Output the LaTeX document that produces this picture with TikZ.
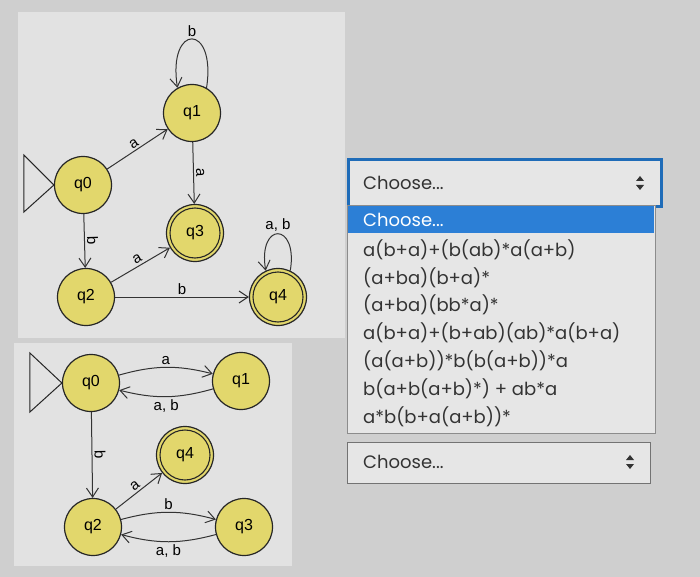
\documentclass[tikz,border=0pt]{standalone}
\usepackage{fontspec}
\setmainfont{Liberation Sans}
\newfontfamily\pop{Poppins}
\usetikzlibrary{arrows.meta}
\definecolor{bg}{HTML}{CFCFCF}
\definecolor{panel}{HTML}{E2E2E2}
\definecolor{stfill}{HTML}{E2D76C}
\definecolor{selblue}{HTML}{2C7FD6}
\definecolor{frameblue}{HTML}{1F6CB8}
\definecolor{boxfill}{HTML}{E6E6E6}
\definecolor{txt}{HTML}{333333}
\begin{document}
\begin{tikzpicture}[x=1pt,y=-1pt,
  state/.style={circle,draw=black!85,line width=1.2pt,fill=stfill,minimum size=57pt,inner sep=0pt,font=\fontsize{16}{16}\selectfont},
  tr/.style={draw=black!80,line width=1pt,-{Straight Barb[length=9pt,width=12pt]}},
  lbl/.style={font=\fontsize{15}{15}\selectfont,inner sep=2pt},
  init/.style={draw=black!85,line width=1pt},
  item/.style={anchor=west,font=\pop\fontsize{18}{20}\selectfont,text=txt,inner sep=0pt},
  arrowicon/.style={fill=black!80,draw=none}]
\fill[bg] (0,0) rectangle (700,577);
\useasboundingbox (0,0) rectangle (700,577);
% panels
\fill[panel] (18,12) rectangle (345,338);
\fill[panel] (14,343) rectangle (292,566);

% ---- top automaton ----
\node[state] (a0) at (83,185) {q0};
\node[state] (a1) at (192,113) {q1};
\node[state] (a3) at (195,233) {q3};
\node[state] (a2) at (86,297) {q2};
\node[state] (a4) at (278,297) {q4};
\draw[line width=1.1pt,draw=black!85] (a3.center) circle (25);
\draw[line width=1.1pt,draw=black!85] (a4.center) circle (25);
\draw[init] (a0.west) -- ++(-30,-30) -- ++(0,57) -- cycle;

\draw[tr] (a0) -- node[lbl,sloped,above] {a} (a1);
\draw[tr] (a1) -- node[lbl,sloped,above] {a} (a3);
\draw[tr] (a0) -- node[lbl,sloped,above] {b} (a2);
\draw[tr] (a2) -- node[lbl,sloped,above] {a} (a3);
\draw[tr] (a2) -- node[lbl,above] {b} (a4);
\draw[tr] (a1.60) .. controls +(10,-65) and +(-10,-65) .. node[lbl,above] {b} (a1.120);
\draw[tr] (a4.65) .. controls +(8,-49) and +(-8,-49) .. node[lbl,above] {a, b} (a4.115);

% ---- bottom automaton ----
\node[state] (b0) at (91,383) {q0};
\node[state] (b1) at (241,381) {q1};
\node[state] (b4) at (185,455) {q4};
\node[state] (b2) at (93,527) {q2};
\node[state] (b3) at (244,527) {q3};
\draw[line width=1.1pt,draw=black!85] (b4.center) circle (25);
\draw[init] (b0.west) -- ++(-32,-30) -- ++(0,59) -- cycle;

\draw[tr] (b0) to[bend left=15] node[lbl,above] {a} (b1);
\draw[tr] (b1) to[bend left=15] node[lbl,below] {a, b} (b0);
\draw[tr] (b0) -- node[lbl,sloped,above] {b} (b2);
\draw[tr] (b2) -- node[lbl,sloped,above] {a} (b4);
\draw[tr] (b2) to[bend left=15] node[lbl,above] {b} (b3);
\draw[tr] (b3) to[bend left=15] node[lbl,below] {a, b} (b2);

% ---- first select ----
\node[draw=frameblue,line width=3pt,fill=boxfill,minimum width=313pt,minimum height=46pt,anchor=north west,inner sep=0pt] (sel1) at (346.5,158.5) {};
\node[item] (sel1t) at (363,183) {Choose...};
\fill[arrowicon] (636,181) -- (644,181) -- (640,176) -- cycle;
\fill[arrowicon] (636,185) -- (644,185) -- (640,190) -- cycle;

% list
\node[draw=black!45,line width=0.8pt,fill=boxfill,minimum width=308pt,minimum height=228pt,anchor=north west,inner sep=0pt] (list) at (347,205) {};
\fill[selblue] (348,206) rectangle (654,233);
\node[item,text=white] (o0) at (363,220) {Choose...};
\node[item] (o1) at (363,250) {a(b+a)+(b(ab)*a(a+b)};
\node[item] (o2) at (363,278) {(a+ba)(b+a)*};
\node[item] (o3) at (363,305) {(a+ba)(bb*a)*};
\node[item] (o4) at (363,333) {a(b+a)+(b+ab)(ab)*a(b+a)};
\node[item] (o5) at (363,361) {(a(a+b))*b(b(a+b))*a};
\node[item] (o6) at (363,389) {b(a+b(a+b)*) + ab*a};
\node[item] (o7) at (363,417) {a*b(b+a(a+b))*};

% ---- second select ----
\node[draw=black!55,line width=0.8pt,fill=boxfill,minimum width=303pt,minimum height=41pt,anchor=north west,inner sep=0pt] (sel2) at (347,442) {};
\node[item] (sel2t) at (363,462) {Choose...};
\fill[arrowicon] (626,460) -- (634,460) -- (630,455) -- cycle;
\fill[arrowicon] (626,464) -- (634,464) -- (630,469) -- cycle;
\end{tikzpicture}
\end{document}
